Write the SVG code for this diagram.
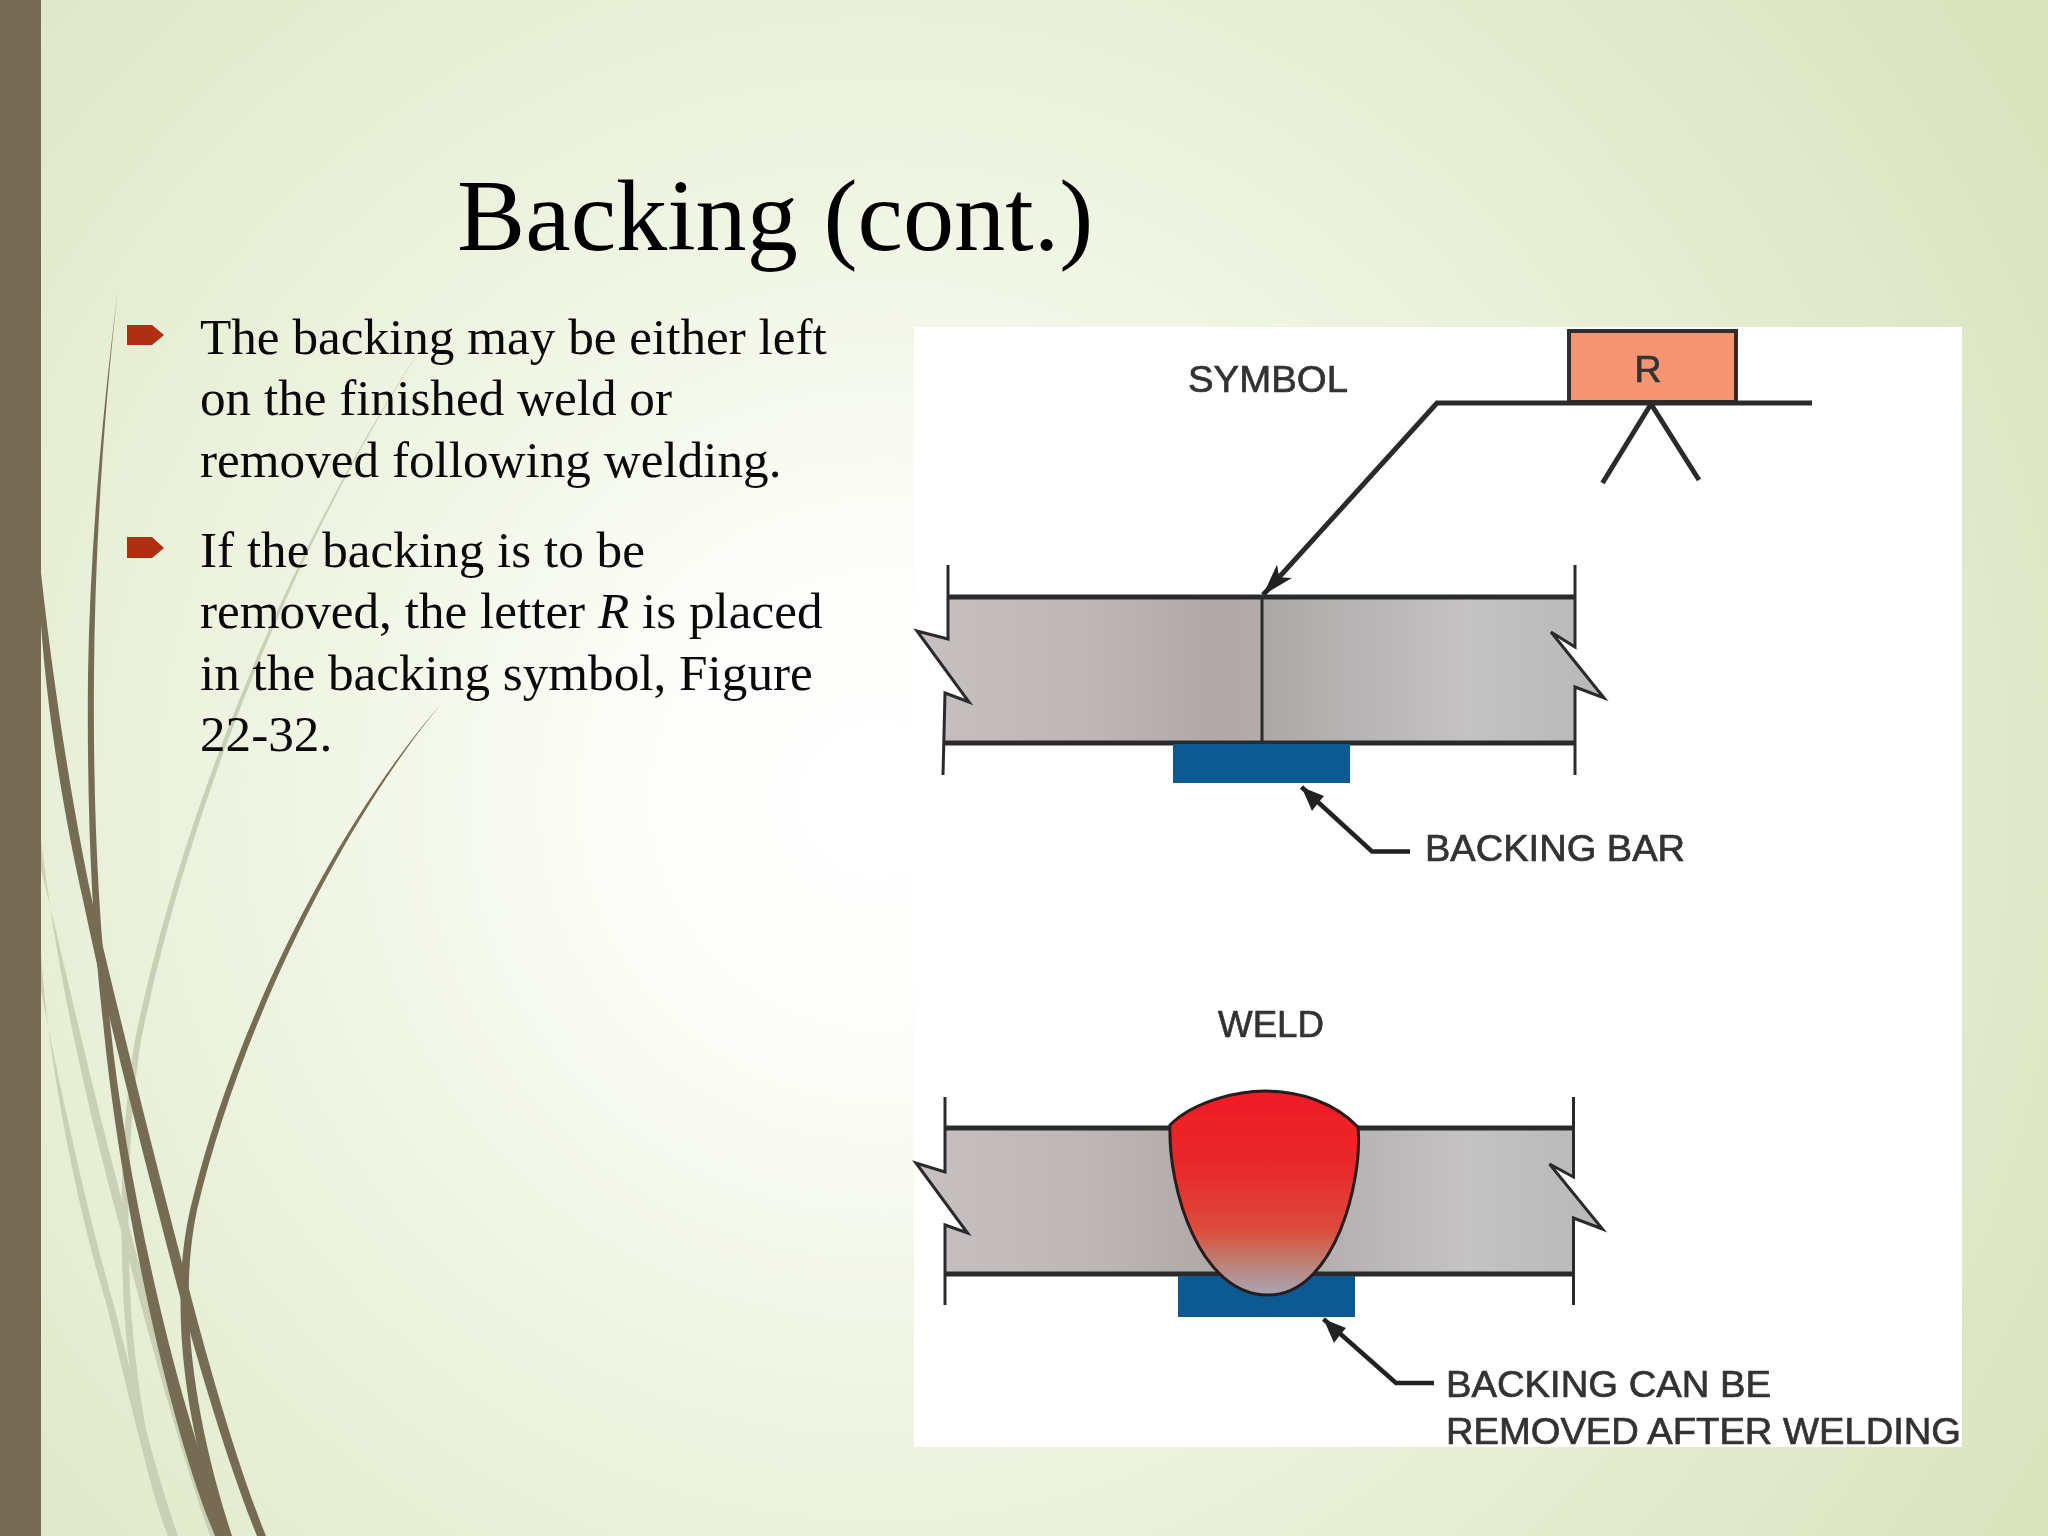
<svg xmlns="http://www.w3.org/2000/svg" width="2048" height="1536" viewBox="0 0 2048 1536">
<defs>
<radialGradient id="bg" gradientUnits="userSpaceOnUse" cx="880" cy="800" r="1360">
<stop offset="0" stop-color="#ffffff"/><stop offset="0.16" stop-color="#fdfefb"/><stop offset="0.42" stop-color="#f0f5e4"/><stop offset="0.72" stop-color="#e4ecd0"/><stop offset="1" stop-color="#d9e3bd"/>
</radialGradient>
<linearGradient id="plateL" x1="0" x2="1" y1="0" y2="0"><stop offset="0" stop-color="#c6c1c0"/><stop offset="0.5" stop-color="#bdb8b7"/><stop offset="0.88" stop-color="#aea9a7"/><stop offset="1" stop-color="#b3aeac"/></linearGradient>
<linearGradient id="plateR" x1="0" x2="1" y1="0" y2="0"><stop offset="0" stop-color="#aca8a7"/><stop offset="0.6" stop-color="#c4c2c4"/><stop offset="1" stop-color="#b9b8b8"/></linearGradient>
<linearGradient id="weldFill" x1="0" x2="0" y1="0" y2="1"><stop offset="0" stop-color="#ee1b25"/><stop offset="0.4" stop-color="#e92a2a"/><stop offset="0.68" stop-color="#dd4d3c"/><stop offset="0.85" stop-color="#bb8377"/><stop offset="1" stop-color="#a8a6b8"/></linearGradient>
<marker id="barb" markerUnits="userSpaceOnUse" markerWidth="34" markerHeight="24" viewBox="0 0 34 24" refX="32" refY="12" orient="auto"><path d="M0,2 L32,12 L0,22 L8,12 Z" fill="#232323"/></marker>
<filter id="soft" x="-2%" y="-2%" width="104%" height="104%"><feGaussianBlur stdDeviation="0.7"/></filter>
<style>
.dark{fill:#766c53}
.light{fill:#c9d0b6}
.bullet{fill:#ae2f12}
.title{font-family:"Liberation Serif",serif;font-size:102.3px;fill:#000}
.body{font-family:"Liberation Serif",serif;font-size:51.2px;fill:#0a0a0a}
.lab{font-family:"Liberation Sans",Arial,sans-serif;font-size:37.5px;fill:#333;stroke:#333;stroke-width:0.7}
.ln{fill:none;stroke:#2a2a2a;stroke-width:3;stroke-linejoin:miter}
.hv{fill:none;stroke:#2c2c2c;stroke-width:5}
.ar{fill:none;stroke:#232323;stroke-width:4.5}
</style>
</defs>
<rect id="background" width="2048" height="1536" fill="url(#bg)"/>
<g id="wisps">
<path class="light" d="M443,316 C320,490 190,770 135,1040 C118,1140 118,1280 130,1370 C137,1430 150,1490 168,1536 L175,1536 C157,1490 144,1430 137,1370 C125,1280 125,1140 141,1040 C196,770 322,490 443,316 Z"/>
<path class="light" d="M41,841 C55,950 75,1065 125,1245 C150,1340 180,1450 210,1536 L218,1536 C190,1450 160,1340 134,1245 C85,1065 62,950 41,870 Z"/>
<path class="light" d="M41,953 C48,1060 75,1200 107,1306 C125,1380 145,1470 168,1536 L178,1536 C155,1470 133,1380 114,1306 C84,1200 54,1060 41,990 Z"/>
<path class="dark" d="M41,625 C48,720 65,820 83,900 C108,1020 145,1160 178,1289 C200,1370 230,1470 257,1536 L266,1536 C239,1470 210,1370 189,1289 C155,1160 120,1020 92,900 C75,820 55,700 41,573 Z"/>
<path class="dark" d="M118,289 C104,400 90,540 88,675 C87,790 90,910 103,1022 C120,1200 170,1430 215,1536 L230,1536 C184,1428 128,1200 110,1022 C97,910 93,790 94,675 C95,540 105,400 118,289 Z"/>
<path class="dark" d="M441,704 C340,820 235,1020 190,1210 C172,1290 178,1400 222,1536 L232,1536 C188,1400 180,1290 197,1210 C242,1020 345,820 441,704 Z"/>
<rect x="0" y="0" width="41" height="1536" fill="#766c53"/>
</g>
<text class="title" x="457" y="250">Backing (cont.)</text>
<g id="bullets">
<path class="bullet" d="M127,325 H152 L164,335 L152,345 H127 Z"/>
<path class="bullet" d="M127,537 H152 L164,548 L152,558 H127 Z"/>
</g>
<g id="body-text">
<text class="body" x="200" y="354">The backing may be either left</text>
<text class="body" x="200" y="415">on the finished weld or</text>
<text class="body" x="200" y="477">removed following welding.</text>
<text class="body" x="200" y="567">If the backing is to be</text>
<text class="body" x="200" y="628">removed, the letter <tspan font-style="italic">R</tspan> is placed</text>
<text class="body" x="200" y="690">in the backing symbol, Figure</text>
<text class="body" x="200" y="751">22-32.</text>
</g>
<rect id="figure-panel" x="914" y="327" width="1048" height="1120" fill="#fff"/>
<g id="figure" filter="url(#soft)">
<g id="symbol-plate">
<path d="M948,596 V639 L917,631 L969,702 L945,693 L943,742 H1262 V596 Z" fill="url(#plateL)"/>
<path d="M1262,596 H1575 V647 L1551,632 L1604,698 L1575,687 V742 H1262 Z" fill="url(#plateR)"/>
<path class="ln" d="M948,565 V639 L917,631 L969,702 L945,693 L943,775"/>
<path class="ln" d="M1575,565 V647 L1551,632 L1604,698 L1575,687 V775"/>
<path class="hv" d="M948,597 H1575 M943,743 H1575"/>
<path class="ln" d="M1262,596 V742"/>
</g>
<rect id="backing-bar" x="1173" y="744" width="177" height="39" fill="#0b5a93"/>
<g id="r-box">
<rect x="1569" y="331" width="167" height="71" fill="#f5946f" stroke="#2e2e2e" stroke-width="4"/>
<text class="lab" x="1648" y="382" text-anchor="middle">R</text>
</g>
<g id="weld-plate">
<path d="M945,1127 V1172 L916,1163 L967.5,1233 L945,1225 V1273 H1260 V1127 Z" fill="url(#plateL)"/>
<path d="M1260,1127 H1573.5 V1177 L1549.5,1164 L1602.5,1229 L1573.5,1218 V1273 H1260 Z" fill="url(#plateR)"/>
<path class="ln" d="M945,1097 V1172 L916,1163 L967.5,1233 L945,1225 V1305"/>
<path class="ln" d="M1573.5,1097 V1177 L1549.5,1164 L1602.5,1229 L1573.5,1218 V1305"/>
<path class="hv" d="M945,1128 H1573.5 M945,1274 H1573.5"/>
</g>
<rect id="backing-bar-weld" x="1178" y="1276" width="177" height="41" fill="#0b5a93"/>
<path id="weld" d="M1170,1125 C1195,1100 1240,1091 1265,1091 C1300,1091 1335,1103 1358,1127 C1363,1180 1335,1295 1268,1295 C1200,1295 1168,1190 1170,1125 Z" fill="url(#weldFill)" stroke="#2a1a1a" stroke-width="3"/>
<g id="connectors">
<path class="hv" d="M1812,403 H1437 L1263,595" style="marker-end:url(#barb)"/>
<path class="hv" d="M1651,404 L1602.5,483 M1651,404 L1699,480"/>
<path class="ar" d="M1301.5,787 L1372,851.5 H1410"/>
<path d="M1301.5,787 L1324,796 L1318,803 L1312,811 Z" fill="#232323"/>
<path class="ar" d="M1323.5,1319 L1396,1383 H1434"/>
<path d="M1323.5,1319 L1346,1328 L1340,1335 L1334,1343 Z" fill="#232323"/>
</g>
<g id="labels">
<text class="lab" x="1188" y="392" textLength="160" lengthAdjust="spacingAndGlyphs">SYMBOL</text>
<text class="lab" x="1425" y="861" textLength="260" lengthAdjust="spacingAndGlyphs">BACKING BAR</text>
<text class="lab" x="1218" y="1037" textLength="106" lengthAdjust="spacingAndGlyphs">WELD</text>
<text class="lab" x="1446" y="1397" textLength="325" lengthAdjust="spacingAndGlyphs">BACKING CAN BE</text>
<text class="lab" x="1446" y="1444" textLength="515" lengthAdjust="spacingAndGlyphs">REMOVED AFTER WELDING</text>
</g>
</g>
</svg>
